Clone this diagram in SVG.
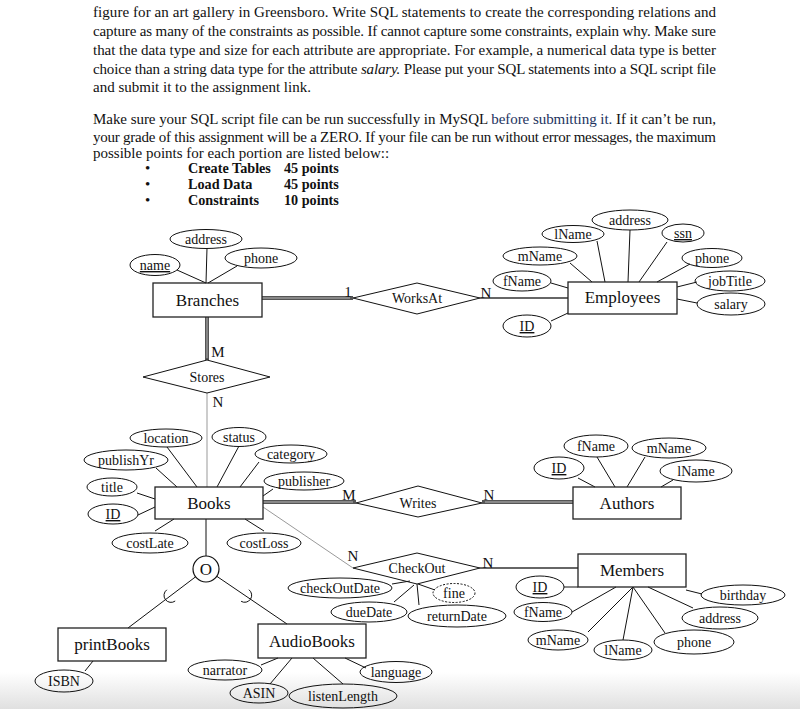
<svg xmlns="http://www.w3.org/2000/svg" width="800" height="709" viewBox="0 0 800 709">
<defs>
<linearGradient id="shade" x1="0" y1="0" x2="0" y2="1">
<stop offset="0" stop-color="#ffffff"/>
<stop offset="1" stop-color="#e0e0e0"/>
</linearGradient>
<style>
text{font-family:"Liberation Serif","DejaVu Serif",serif;fill:#111}
.p{font-size:15px}
.b{font-size:14.2px;font-weight:bold}
.a{font-size:14px;text-anchor:middle}
.e{font-size:17px;text-anchor:middle}
.r{font-size:14px;text-anchor:middle}
.k{font-size:15px;text-anchor:middle}
.u{text-decoration:underline}
ellipse{fill:none;stroke:#111;stroke-width:1}
.box{fill:none;stroke:#222;stroke-width:1.3}
.dia{fill:none;stroke:#111;stroke-width:1}
.c{stroke:#111;stroke-width:1;fill:none}
.dbl{stroke:#555;stroke-width:4}
.dbli{stroke:#9a9a9a;stroke-width:1.4}
.g2{stroke:#666;stroke-width:2}
.g1{stroke:#999;stroke-width:1}
</style>
</defs>
<rect x="0" y="0" width="800" height="709" fill="#fff"/>
<rect x="0" y="672" width="800" height="37" fill="url(#shade)"/>

<g id="instructions">
<text class="p" x="93" y="17" textLength="623" lengthAdjust="spacing">figure for an art gallery in Greensboro.  Write SQL statements to create the corresponding relations and</text>
<text class="p" x="93" y="36" textLength="623" lengthAdjust="spacing">capture as many of the constraints as possible.  If cannot capture some constraints, explain why. Make sure</text>
<text class="p" x="93" y="55" textLength="623" lengthAdjust="spacing">that the data type and size for each attribute are appropriate.  For example, a numerical data type is better</text>
<text class="p" x="93" y="74" textLength="623" lengthAdjust="spacing">choice than a string data type for the attribute <tspan font-style="italic">salary.</tspan>  Please put your SQL statements into a SQL script file</text>
<text class="p" x="93" y="92">and submit it to the assignment link.</text>
<text class="p" x="93" y="124" textLength="623" lengthAdjust="spacing">Make sure your SQL script file can be run successfully in MySQL <tspan fill="#22335e">before submitting it.</tspan> If it can’t be run,</text>
<text class="p" x="93" y="142" textLength="623" lengthAdjust="spacing">your grade of this assignment will be a ZERO.  If your file can be run without error messages, the maximum</text>
<text class="p" x="93" y="158">possible points for each portion are listed below::</text>
<text class="p" x="145" y="173">•</text>
<text class="p" x="145" y="189">•</text>
<text class="p" x="145" y="205">•</text>
<text class="b" x="188" y="173">Create Tables</text>
<text class="b" x="284" y="173">45 points</text>
<text class="b" x="188" y="189">Load Data</text>
<text class="b" x="284" y="189">45 points</text>
<text class="b" x="188" y="205">Constraints</text>
<text class="b" x="284" y="205">10 points</text>
</g>

<g id="connectors">
<line class="c" x1="177" y1="270" x2="206" y2="283"/>
<line class="c" x1="207" y1="248" x2="206" y2="283"/>
<line class="c" x1="237" y1="266" x2="208" y2="283"/>
<line class="dbl" x1="262" y1="298" x2="353" y2="298"/>
<line class="dbli" x1="262" y1="298" x2="350" y2="298"/>
<line class="g2" x1="480" y1="298" x2="568" y2="298"/>
<line class="c" x1="597" y1="241" x2="605" y2="282"/>
<line class="c" x1="630" y1="230" x2="628" y2="282"/>
<line class="c" x1="667" y1="242" x2="639" y2="282"/>
<line class="c" x1="570" y1="263" x2="592" y2="282"/>
<line class="c" x1="690" y1="264" x2="657" y2="282"/>
<line class="c" x1="551" y1="283" x2="568" y2="288"/>
<line class="c" x1="697" y1="282" x2="677" y2="287"/>
<line class="c" x1="697" y1="303" x2="677" y2="299"/>
<line class="c" x1="551" y1="321" x2="568" y2="313"/>
<line class="dbl" x1="207" y1="317" x2="207" y2="360"/>
<line class="dbli" x1="207" y1="317" x2="207" y2="358"/>
<line class="g1" x1="207" y1="393" x2="207" y2="487"/>
<line class="c" x1="167" y1="447" x2="197" y2="487"/>
<line class="c" x1="239" y1="446" x2="217" y2="487"/>
<line class="c" x1="156" y1="468" x2="177" y2="487"/>
<line class="c" x1="259" y1="462" x2="240" y2="487"/>
<line class="c" x1="273" y1="489" x2="263" y2="496"/>
<line class="c" x1="137" y1="493" x2="155" y2="499"/>
<line class="c" x1="138" y1="515" x2="155" y2="507"/>
<line class="c" x1="155" y1="531" x2="174" y2="519"/>
<line class="c" x1="264" y1="531" x2="245" y2="519"/>
<line class="dbl" x1="263" y1="502" x2="356" y2="502"/>
<line class="dbli" x1="263" y1="502" x2="353" y2="502"/>
<line class="dbl" x1="482" y1="502" x2="573" y2="502"/>
<line class="dbli" x1="485" y1="502" x2="573" y2="502"/>
<line class="c" x1="578" y1="478" x2="595" y2="487"/>
<line class="c" x1="597" y1="457" x2="615" y2="487"/>
<line class="c" x1="645" y1="457" x2="627" y2="487"/>
<line class="c" x1="673" y1="480" x2="661" y2="487"/>
<line class="g1" x1="263" y1="507" x2="353" y2="568"/>
<line class="g2" x1="480" y1="568" x2="578" y2="568"/>
<line class="c" x1="392" y1="584" x2="410" y2="581"/>
<line class="c" x1="394" y1="602" x2="414" y2="585"/>
<line class="c" x1="435" y1="590" x2="418" y2="584"/>
<line class="c" x1="419" y1="605" x2="417" y2="584"/>
<line class="c" x1="564" y1="587" x2="578" y2="587"/>
<line class="c" x1="572" y1="612" x2="616" y2="587"/>
<line class="c" x1="588" y1="632" x2="633" y2="587"/>
<line class="c" x1="623" y1="640" x2="633" y2="587"/>
<line class="c" x1="665" y1="633" x2="633" y2="587"/>
<line class="c" x1="693" y1="608" x2="648" y2="587"/>
<line class="c" x1="702" y1="594" x2="686" y2="590"/>
<line class="c" x1="206" y1="519" x2="206" y2="556"/>
<line class="c" x1="195.6" y1="576.8" x2="128" y2="628"/>
<line class="c" x1="216.8" y1="576.3" x2="287" y2="624"/>
<path class="c" d="M175.2,601 A7,7 0 0 1 166.8,589.8"/>
<path class="c" d="M241.1,601.3 A7,7 0 0 0 248.9,589.7"/>
<line class="c" x1="85" y1="671" x2="93" y2="661"/>
<line class="c" x1="261" y1="665" x2="278" y2="658"/>
<line class="c" x1="270" y1="684" x2="292" y2="658"/>
<line class="c" x1="343" y1="684" x2="313" y2="658"/>
<line class="c" x1="366" y1="668" x2="345" y2="658"/>
</g>

<g id="cardinalities">
<text class="k" x="348" y="297">1</text>
<text class="k" x="486" y="298">N</text>
<text class="k" x="218" y="357">M</text>
<text class="k" x="218" y="407">N</text>
<text class="k" x="349" y="500">M</text>
<text class="k" x="489" y="500">N</text>
<text class="k" x="353" y="561">N</text>
<text class="k" x="488" y="568">N</text>
</g>

<g id="Branches">
<rect class="box" x="153" y="283" width="109" height="34"/>
<text class="e" x="207.5" y="306">Branches</text>
</g>
<g id="Branches-name"><ellipse cx="155" cy="265" rx="25" ry="10.5"/><text class="a u" x="155" y="270">name</text></g>
<g id="Branches-address"><ellipse cx="206" cy="239" rx="36" ry="9.5"/><text class="a" x="206" y="244">address</text></g>
<g id="Branches-phone"><ellipse cx="261" cy="258" rx="36" ry="10"/><text class="a" x="261" y="263">phone</text></g>

<g id="WorksAt">
<polygon class="dia" points="353,298 417,283 480,298 417,314"/>
<text class="r" x="417" y="303">WorksAt</text>
</g>

<g id="Employees">
<rect class="box" x="568" y="282" width="109" height="32"/>
<text class="e" x="622.5" y="303">Employees</text>
</g>
<g id="Employees-address"><ellipse cx="630" cy="220" rx="38" ry="10"/><text class="a" x="630" y="225">address</text></g>
<g id="Employees-lName"><ellipse cx="573" cy="234" rx="31" ry="8.5"/><text class="a" x="573" y="239">lName</text></g>
<g id="Employees-ssn"><ellipse cx="683" cy="233" rx="21" ry="9"/><text class="a u" x="683" y="238">ssn</text></g>
<g id="Employees-mName"><ellipse cx="540" cy="256" rx="37" ry="9"/><text class="a" x="540" y="261">mName</text></g>
<g id="Employees-phone"><ellipse cx="712" cy="258" rx="30" ry="9.5"/><text class="a" x="712" y="263">phone</text></g>
<g id="Employees-fName"><ellipse cx="522" cy="281" rx="29" ry="10"/><text class="a" x="522" y="286">fName</text></g>
<g id="Employees-jobTitle"><ellipse cx="730" cy="281" rx="35" ry="10"/><text class="a" x="730" y="286">jobTitle</text></g>
<g id="Employees-salary"><ellipse cx="731" cy="304" rx="34" ry="11"/><text class="a" x="731" y="309">salary</text></g>
<g id="Employees-ID"><ellipse cx="527" cy="326" rx="24" ry="11"/><text class="a u" x="527" y="331">ID</text></g>

<g id="Stores">
<polygon class="dia" points="143,377 207,360 270,377 207,393"/>
<text class="r" x="207" y="382">Stores</text>
</g>

<g id="Books">
<rect class="box" x="155" y="487" width="108" height="32"/>
<text class="e" x="209" y="509">Books</text>
</g>
<g id="Books-location"><ellipse cx="166" cy="438" rx="36" ry="9"/><text class="a" x="166" y="443">location</text></g>
<g id="Books-status"><ellipse cx="239" cy="437" rx="27" ry="9.5"/><text class="a" x="239" y="442">status</text></g>
<g id="Books-publishYr"><ellipse cx="126" cy="460" rx="42" ry="10"/><text class="a" x="126" y="465">publishYr</text></g>
<g id="Books-category"><ellipse cx="291" cy="454" rx="36" ry="9"/><text class="a" x="291" y="459">category</text></g>
<g id="Books-publisher"><ellipse cx="304" cy="481" rx="40" ry="9"/><text class="a" x="304" y="486">publisher</text></g>
<g id="Books-title"><ellipse cx="112" cy="487" rx="25" ry="9"/><text class="a" x="112" y="492">title</text></g>
<g id="Books-ID"><ellipse cx="113" cy="514" rx="25" ry="10"/><text class="a u" x="113" y="519">ID</text></g>
<g id="Books-costLate"><ellipse cx="150" cy="543" rx="38" ry="10"/><text class="a" x="150" y="548">costLate</text></g>
<g id="Books-costLoss"><ellipse cx="264" cy="543" rx="37" ry="10"/><text class="a" x="264" y="548">costLoss</text></g>

<g id="Writes">
<polygon class="dia" points="356,503 418,486 482,503 418,517"/>
<text class="r" x="418" y="508">Writes</text>
</g>

<g id="Authors">
<rect class="box" x="573" y="487" width="108" height="32"/>
<text class="e" x="627" y="509">Authors</text>
</g>
<g id="Authors-ID"><ellipse cx="559" cy="468" rx="25" ry="11"/><text class="a u" x="559" y="473">ID</text></g>
<g id="Authors-fName"><ellipse cx="596" cy="446" rx="32" ry="11"/><text class="a" x="596" y="451">fName</text></g>
<g id="Authors-mName"><ellipse cx="669" cy="448" rx="37" ry="10"/><text class="a" x="669" y="453">mName</text></g>
<g id="Authors-lName"><ellipse cx="696" cy="471" rx="36" ry="11"/><text class="a" x="696" y="476">lName</text></g>

<g id="CheckOut">
<polygon class="dia" points="353,568 417,553 480,568 417,584"/>
<text class="r" x="417" y="573">CheckOut</text>
</g>
<g id="CheckOut-checkOutDate"><ellipse cx="340" cy="588" rx="52" ry="10"/><text class="a" x="340" y="593">checkOutDate</text></g>
<g id="CheckOut-dueDate"><ellipse cx="369" cy="612" rx="38" ry="10"/><text class="a" x="369" y="617">dueDate</text></g>
<g id="CheckOut-fine"><ellipse cx="454" cy="593" rx="21" ry="9.5" stroke-dasharray="2,1.5"/><text class="a" x="454" y="598">fine</text></g>
<g id="CheckOut-returnDate"><ellipse cx="457" cy="616" rx="49" ry="11"/><text class="a" x="457" y="621">returnDate</text></g>

<g id="Members">
<rect class="box" x="578" y="554" width="108" height="33"/>
<text class="e" x="632" y="576">Members</text>
</g>
<g id="Members-ID"><ellipse cx="540" cy="587" rx="24" ry="11"/><text class="a u" x="540" y="592">ID</text></g>
<g id="Members-fName"><ellipse cx="543" cy="612" rx="29" ry="9.5"/><text class="a" x="543" y="617">fName</text></g>
<g id="Members-birthday"><ellipse cx="743" cy="595" rx="42" ry="10"/><text class="a" x="743" y="600">birthday</text></g>
<g id="Members-address"><ellipse cx="720" cy="618" rx="38" ry="11"/><text class="a" x="720" y="623">address</text></g>
<g id="Members-mName"><ellipse cx="558" cy="640" rx="30" ry="10"/><text class="a" x="558" y="645">mName</text></g>
<g id="Members-lName"><ellipse cx="623" cy="650" rx="29" ry="10"/><text class="a" x="623" y="655">lName</text></g>
<g id="Members-phone"><ellipse cx="694" cy="642" rx="40" ry="12"/><text class="a" x="694" y="647">phone</text></g>

<g id="Overlap">
<circle cx="206" cy="569" r="13" fill="none" stroke="#111" stroke-width="1.2"/>
<text class="e" x="206" y="575">O</text>
</g>

<g id="printBooks">
<rect class="box" x="58" y="628" width="108" height="33"/>
<text class="e" x="112" y="650">printBooks</text>
</g>
<g id="printBooks-ISBN"><ellipse cx="64" cy="681" rx="29" ry="11"/><text class="a" x="64" y="686">ISBN</text></g>

<g id="AudioBooks">
<rect class="box" x="258" y="624" width="108" height="34"/>
<text class="e" x="312" y="647">AudioBooks</text>
</g>
<g id="AudioBooks-narrator"><ellipse cx="225" cy="670" rx="37" ry="10"/><text class="a" x="225" y="675">narrator</text></g>
<g id="AudioBooks-ASIN"><ellipse cx="259" cy="693" rx="29" ry="10"/><text class="a" x="259" y="698">ASIN</text></g>
<g id="AudioBooks-listenLength"><ellipse cx="343" cy="696" rx="54" ry="12"/><text class="a" x="343" y="701">listenLength</text></g>
<g id="AudioBooks-language"><ellipse cx="396" cy="672" rx="36" ry="10.5"/><text class="a" x="396" y="677">language</text></g>
</svg>
